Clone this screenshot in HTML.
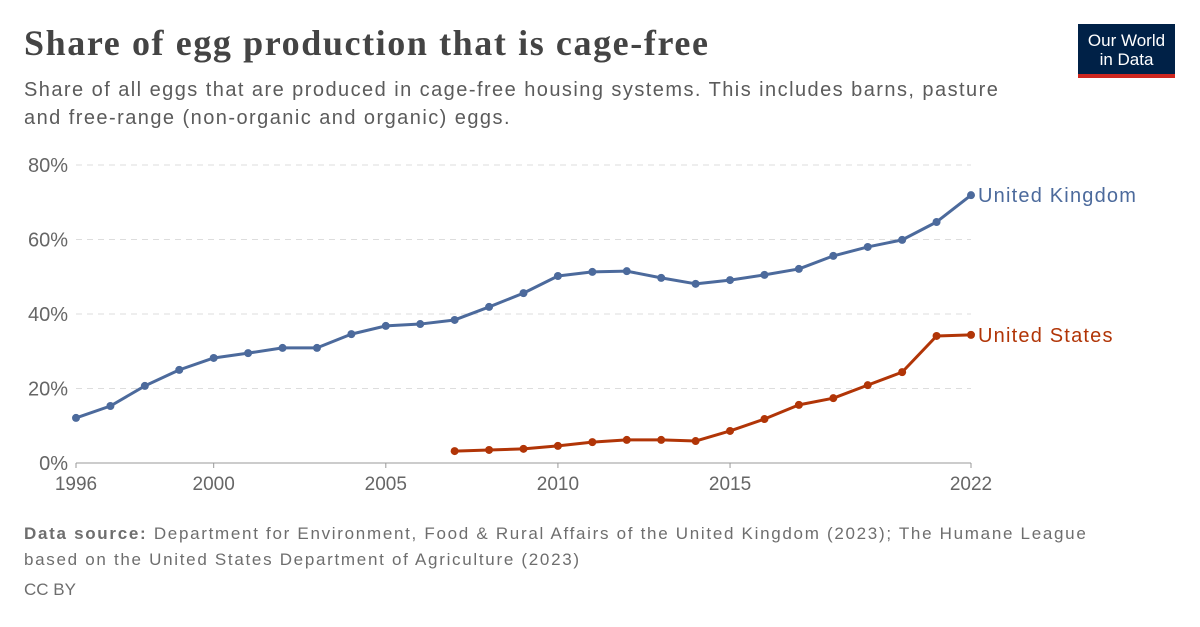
<!DOCTYPE html>
<html><head><meta charset="utf-8"><style>
body{margin:0;width:1200px;height:627px;background:#fff;font-family:"Liberation Sans",sans-serif;position:relative;overflow:hidden}
.t{position:absolute;margin:0;white-space:nowrap}
</style></head><body>
<h1 class="t" style="left:24px;top:22px;font-family:'Liberation Serif',serif;font-size:36px;letter-spacing:1.6px;font-weight:bold;color:#444">Share of egg production that is cage-free</h1>
<p class="t" style="left:24px;top:76px;font-size:20px;line-height:28px;letter-spacing:1.45px;color:#5b5b5b">Share of all eggs that are produced in cage-free housing systems. This includes barns, pasture<br>and free-range (non-organic and organic) eggs.</p>
<div style="position:absolute;left:1078px;top:24px;width:97px;height:54px;background:#002147;border-bottom:4px solid #ce261e;color:#fff;font-size:17px;line-height:19px;text-align:center;box-sizing:border-box;padding-top:7px">Our World<br>in Data</div>
<svg id="chart" width="1200" height="627" style="position:absolute;left:0;top:0"></svg>
<p class="t" style="left:24px;top:521px;font-size:17px;line-height:26px;letter-spacing:1.7px;color:#6e6e6e"><b>Data source:</b> Department for Environment, Food &amp; Rural Affairs of the United Kingdom (2023); The Humane League<br>based on the United States Department of Agriculture (2023)</p>
<p class="t" style="left:24px;top:580px;font-size:17px;color:#6e6e6e">CC BY</p>
<script>
const ukYears=[1996,1997,1998,1999,2000,2001,2002,2003,2004,2005,2006,2007,2008,2009,2010,2011,2012,2013,2014,2015,2016,2017,2018,2019,2020,2021,2022];
const ukValues=[12.1,15.3,20.7,25,28.2,29.5,30.9,30.9,34.6,36.8,37.3,38.4,41.9,45.6,50.2,51.3,51.5,49.7,48.1,49.1,50.5,52.1,55.6,58,59.9,64.7,71.9];
const usYears=[2007,2008,2009,2010,2011,2012,2013,2014,2015,2016,2017,2018,2019,2020,2021,2022];
const usValues=[3.2,3.5,3.8,4.6,5.6,6.2,6.2,5.9,8.6,11.8,15.6,17.4,20.9,24.4,34.1,34.4];
const yTicks=[0,20,40,60,80];
const xTicks=[1996,2000,2005,2010,2015,2022];
const NS="http://www.w3.org/2000/svg";
const svg=document.getElementById('chart');
const x=y=>76+(y-1996)*(895/26);
const yy=v=>463-v*3.725;
function mk(t,a,txt){const e=document.createElementNS(NS,t);for(const k in a)e.setAttribute(k,a[k]);if(txt!=null)e.textContent=txt;svg.appendChild(e);return e;}
yTicks.forEach(v=>{
  if(v>0){const l=mk('line',{x1:76,x2:971,y1:yy(v),y2:yy(v),stroke:'#ddd','stroke-dasharray':'6,5'});
  
  }
  const t=mk('text',{x:68,y:yy(v)+7,'text-anchor':'end','font-size':20,fill:'#666','font-family':'Liberation Sans'},v+'%');
  
  
});
const ax=mk('line',{x1:76,x2:971,y1:463,y2:463,stroke:'#999'});


xTicks.forEach(v=>{
  mk('line',{x1:x(v),x2:x(v),y1:463,y2:468,stroke:'#999'});
  const t=mk('text',{x:x(v),y:490,'text-anchor':'middle','font-size':19,fill:'#666','font-family':'Liberation Sans'},v);
  
  
});
function series(ys,vs,c,name,label){
  const p=mk('polyline',{points:ys.map((y,i)=>x(y)+','+yy(vs[i])).join(' '),fill:'none',stroke:c,'stroke-width':3,'stroke-linejoin':'round'});
  
  
  ys.forEach((y,i)=>{const d=mk('circle',{cx:x(y),cy:yy(vs[i]),r:4,fill:c});
  
  });
  const t=mk('text',{x:978,y:yy(vs[vs.length-1])+7,'font-size':20,'letter-spacing':1.2,fill:c,'font-family':'Liberation Sans'},label);
  
  
}
series(ukYears,ukValues,'#4c6a9c','uk','United Kingdom');
series(usYears,usValues,'#b13507','us','United States');
</script>
</body></html>
